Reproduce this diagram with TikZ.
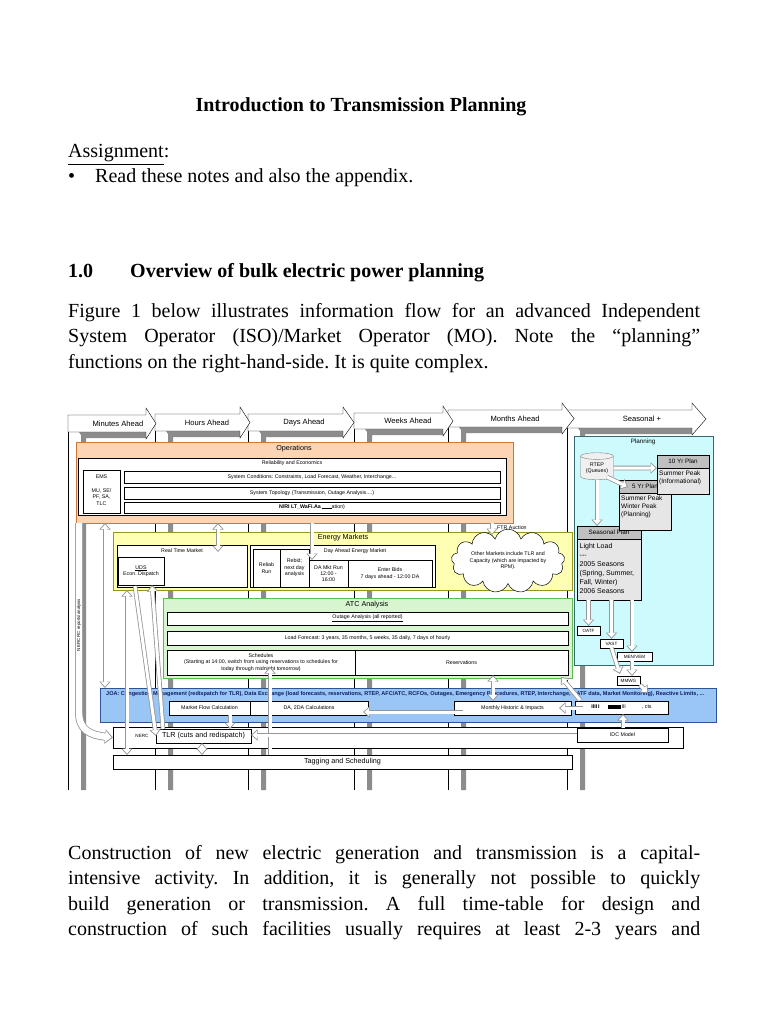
\documentclass[tikz,border=0pt]{standalone}
\usepackage{graphicx}
\usepackage{fontspec}
\setmainfont{Liberation Serif}
\newfontfamily\arialf{Liberation Sans}
\usetikzlibrary{arrows.meta,shapes.symbols,shapes.geometric}
\definecolor{opsfill}{RGB}{252,213,180}
\definecolor{opsdraw}{RGB}{205,120,50}
\definecolor{emfill}{RGB}{255,255,180}
\definecolor{emdraw}{RGB}{150,150,30}
\definecolor{atcfill}{RGB}{215,246,208}
\definecolor{atcdraw}{RGB}{95,185,85}
\definecolor{joafill}{RGB}{153,198,245}
\definecolor{joadraw}{RGB}{45,85,150}
\definecolor{joatext}{RGB}{15,30,100}
\definecolor{plfill}{RGB}{205,250,252}
\definecolor{pldraw}{RGB}{55,105,115}
\definecolor{bevelc}{RGB}{140,140,140}
\definecolor{plhead}{RGB}{192,192,192}
\definecolor{plbody}{RGB}{230,230,230}
\definecolor{arrline}{RGB}{150,150,150}
\frenchspacing
\newcommand\colhdr[8]{%
  \fill[bevelc] (#2+11,#6) -- (#3,#6) -- (#3,#6+6) -- (#2+18,#6+6) -- (#2+18,790) -- (#2+13,790) -- (#2+13,#6+3) -- cycle;
  \fill[bevelc!80] (#3,#6) -- (#3,#6+7) -- (#4-3,{(#5+#6)/2+3}) -- cycle;
  \draw[line width=0.4pt] (#2,#6) -- (#2,790);
  \draw[line width=0.4pt,fill=white] (#2,#5) -- (#3,#5) -- (#3,#5-7) -- (#4,{(#5+#6)/2}) -- (#3,#6+7) -- (#3,#6) -- (#2,#6) -- cycle;
  \node[hdrt] (#1) at (#8,{(#5+#6)/2}) {#7};}
\begin{document}
\begin{tikzpicture}[x=1pt,y=-1pt,
  body/.style={anchor=base west,inner sep=0pt,font=\fontsize{20}{25}\selectfont},
  bodyb/.style={anchor=base west,inner sep=0pt,font=\bfseries\fontsize{20}{25}\selectfont},
  box/.style={draw=black,line width=0.6pt,fill=white,anchor=north west,inner sep=0pt,outer sep=0pt,align=center},
  t4/.style={font=\arialf\fontsize{4.6}{5.4}\selectfont},
  t5/.style={font=\arialf\fontsize{5.3}{6.4}\selectfont},
  t6/.style={font=\arialf\fontsize{6.3}{7.4}\selectfont},
  t7/.style={font=\arialf\fontsize{7.2}{8.6}\selectfont},
  lbl/.style={inner sep=0pt,align=center},
  hdrt/.style={inner sep=0pt,font=\arialf\fontsize{7.6}{8.8}\selectfont},
  blk/.style={line width=4.6pt,draw=arrline,-{Triangle[length=6.5pt,width=11pt]},
     postaction={draw=white,line width=3pt,shorten >=1.4pt,-{Triangle[length=4.7pt,width=8pt]}}},
  blkd/.style={line width=4.6pt,draw=arrline,{Triangle[length=6.5pt,width=11pt]}-{Triangle[length=6.5pt,width=11pt]},
     postaction={draw=white,line width=3pt,shorten >=1.4pt,shorten <=1.4pt,{Triangle[length=4.7pt,width=8pt]}-{Triangle[length=4.7pt,width=8pt]}}},
  blkw/.style={line width=8pt,draw=arrline,-{Triangle[length=8pt,width=14pt]},
     postaction={draw=white,line width=6.4pt,shorten >=1.4pt,-{Triangle[length=6.2pt,width=11pt]}}}]
\useasboundingbox (0,0) rectangle (768,1024);
\fill[white] (0,0) rectangle (768,1024);

% ---------- text ----------
\node[anchor=base,inner sep=0pt,font=\bfseries\fontsize{20}{25}\selectfont] (title) at (361,112) {Introduction to Transmission Planning};
\node[body] (asg) at (68,158) {\underline{Assignment}:};
\node[body] (bul) at (68,183) {\textbullet};
\node[body] (read) at (95,183) {Read these notes and also the appendix.};
\node[bodyb] (sec) at (68,277) {1.0};
\node[bodyb] (sect) at (130,277) {Overview of bulk electric power planning};
\node[body] (p1a) at (68,317) {\makebox[632pt][s]{Figure 1 below illustrates information flow for an advanced Independent}};
\node[body] (p1b) at (68,342.5) {\makebox[632pt][s]{System Operator (ISO)/Market Operator (MO). Note the “planning”}};
\node[body] (p1c) at (68,368) {functions on the right-hand-side. It is quite complex.};
\node[body] (p2a) at (68,859) {\makebox[632pt][s]{Construction of new electric generation and transmission is a capital-}};
\node[body] (p2b) at (68,884.5) {\makebox[632pt][s]{intensive activity. In addition, it is generally not possible to quickly}};
\node[body] (p2c) at (68,910) {\makebox[632pt][s]{build generation or transmission. A full time-table for design and}};
\node[body] (p2d) at (68,935.5) {\makebox[632pt][s]{construction of such facilities usually requires at least 2-3 years and}};

% ---------- column headers ----------
\colhdr{hsea}{567}{692}{706}{410}{428}{Seasonal +}{642}
\colhdr{hmon}{448}{562}{574}{410}{427}{Months Ahead}{515}
\colhdr{hwee}{354}{443}{453}{413}{429}{Weeks Ahead}{408}
\colhdr{hday}{248}{343}{354}{414}{431}{Days Ahead}{304}
\colhdr{hhou}{155}{240}{250}{414}{431}{Hours Ahead}{207}
\colhdr{hmin}{68}{146}{156}{415}{432}{Minutes Ahead}{118}

% ---------- Operations ----------
\node[box,draw=opsdraw,fill=opsfill,line width=0.8pt,minimum width=437,minimum height=81] (ops) at (76,442) {};
\node[lbl,t7] (opst) at (294,449) {Operations};
\node[box,minimum width=428,minimum height=57] (rel) at (78,458) {};
\node[lbl,t5] (relt) at (292,463.5) {Reliability and Economics};
\node[box,line width=0.8pt,minimum width=37,minimum height=43] (ems) at (83,470) {};
\node[lbl,t5] (emst) at (101.5,477) {EMS};
\node[lbl,t5] (emsb) at (101.5,497) {MU, SE/\\PF, SA,\\TLC};
\node[box,line width=0.8pt,minimum width=376,minimum height=12,t5] (r1) at (124,471) {System Conditions: Constraints, Load Forecast, Weather, Interchange...};
\node[box,line width=0.8pt,minimum width=376,minimum height=12,t5] (r2) at (124,487) {System Topology (Transmission, Outage Analysis....)};
\node[box,line width=0.8pt,minimum width=376,minimum height=11,t5] (r3) at (124,502) {\textbf{N/RI LT\_WaFi.Aa}\,\rule[0.6pt]{10pt}{0.4pt}ation)};

% ---------- Energy Markets ----------
\node[box,draw=emdraw,fill=emfill,line width=0.8pt,minimum width=459,minimum height=58] (em) at (113,532) {};
\node[lbl,t7] (emt) at (343,537.5) {Energy Markets};
\node[box,minimum width=130,minimum height=42] (rtm) at (117,545) {};
\node[lbl,t5] (rtmt) at (182,551) {Real Time Market};
\node[box,line width=1pt,minimum width=46,minimum height=28,t5] (uds) at (118,557) {\underline{UDS}\\Econ. Dispatch};
\node[box,minimum width=185,minimum height=42] (da) at (250,545) {};
\node[lbl,t5] (dat) at (355,551) {Day Ahead Energy Market};
\node[box,minimum width=27,minimum height=38,t5] (c1) at (253,549) {Reliab\\Run};
\node[box,minimum width=29,minimum height=38,t5] (c2) at (280,549) {Rebid;\\next day\\analysis};
\node[box,minimum width=39,minimum height=27,t5] (c3) at (309,560) {DA Mkt Run\\12:00 -\\16:00};
\node[box,minimum width=84,minimum height=27,t5] (c4) at (348,560) {Enter Bids\\7 days ahead - 12:00 DA};
\node[cloud,cloud puffs=13,aspect=2.4,draw=black,line width=0.5pt,fill=white,minimum width=110pt,minimum height=46pt,inner sep=0pt,align=center,t5] (cloud) at (508,561) {Other Markets include TLR and\\Capacity (which are impacted by\\RPM).};
\node[lbl,t5,anchor=west] (ftr) at (497,528) {FTR Auction};

% ---------- ATC ----------
\node[box,draw=atcdraw,fill=atcfill,line width=0.8pt,minimum width=409,minimum height=80] (atc) at (163,598) {};
\node[lbl,t7] (atct) at (367,605) {ATC Analysis};
\node[box,minimum width=401,minimum height=13,t5] (o1) at (167,612) {\underline{Outage Analysis (all reported)}};
\node[box,minimum width=401,minimum height=14,t5] (o2) at (167,631) {Load Forecast: 3 years, 35 months, 5 weeks, 35 daily, 7 days of hourly};
\node[box,minimum width=188,minimum height=25,t5] (sch) at (167,650) {Schedules\\(Starting at 14:00, switch from using reservations to schedules for\\today through midnight tomorrow)};
\node[box,minimum width=213,minimum height=25,t5] (res) at (355,650) {Reservations};

% ---------- JOA band ----------
\node[box,draw=joadraw,fill=joafill,line width=0.7pt,minimum width=616,minimum height=34] (joa) at (100,688) {};
\node[inner sep=0pt,anchor=west,text=joatext] (joat) at (106,694.5) {\resizebox{598pt}{!}{\arialf\bfseries JOA: Congestion Management (redispatch for TLR), Data Exchange (load forecasts, reservations, RTEP, AFC/ATC, RCFOs, Outages, Emergency Procedures, RTEP, Interchange, OATF data, Market Monitoring), Reactive Limits, ...}};
\node[box,minimum width=81,minimum height=14,t5] (mfc) at (169,701) {Market Flow Calculation};
\node[box,minimum width=118,minimum height=14,t5] (da2) at (250,701) {DA, 2DA Calculations};
\node[box,minimum width=117,minimum height=14,t5] (mhi) at (454,701) {Monthly Historic \& Impacts};
\node[box,minimum width=93,minimum height=13,t5] (gb) at (575,701) {\textbf{IIII\,I}\hspace{8pt}\rule[-0.5pt]{13pt}{4pt}\,III\hspace{16pt}, cts};

% ---------- NERC / Tagging ----------
\node[box,minimum width=570,minimum height=21] (nerc) at (113,727) {};
\node[lbl,t4] (nerct) at (142,736) {NERC};
\node[box,minimum width=95,minimum height=14,t7] (tlr) at (156,729) {TLR (cuts and redispatch)};
\node[box,minimum width=91,minimum height=14,t5] (idc) at (577,728) {IDC Model};
\node[box,minimum width=459,minimum height=14,t7] (tag) at (113,755) {Tagging and Scheduling};

% ---------- Planning ----------
\node[box,draw=pldraw,fill=plfill,line width=0.8pt,minimum width=139,minimum height=229] (pl) at (574,436) {};
\node[lbl,t6] (plt) at (643,442) {Planning};
\node[box,fill=plhead,minimum width=64,minimum height=13,t6] (p3h) at (577,526) {Seasonal Plan};
\node[box,fill=plbody,minimum width=64,minimum height=61] (p3b) at (577,539) {};
\node[inner sep=0pt,anchor=north west,align=left,font=\arialf\fontsize{7}{9}\selectfont] (p3t) at (579.5,543.5) {Light Load\\---\\2005 Seasons\\(Spring, Summer,\\Fall, Winter)\\2006 Seasons};
\node[box,fill=plhead,minimum width=52,minimum height=13,t6] (p5h) at (619,480) {5 Yr Plan};
\node[box,fill=plbody,minimum width=52,minimum height=37] (p5b) at (619,493) {};
\node[inner sep=0pt,anchor=north west,align=left,font=\arialf\fontsize{6.5}{8}\selectfont] (p5t) at (621,496) {Summer Peak\\Winter Peak\\(Planning)};
\node[box,fill=plhead,minimum width=52,minimum height=13,t6] (p10h) at (657,455) {10 Yr Plan};
\node[box,fill=plbody,minimum width=52,minimum height=26] (p10b) at (657,468) {};
\node[inner sep=0pt,anchor=north west,align=left,font=\arialf\fontsize{6.5}{8}\selectfont] (p10t) at (659,471) {Summer Peak\\(Informational)};
\node[cylinder,shape border rotate=90,aspect=0.3,draw=gray,fill=gray!12,minimum width=33pt,minimum height=27pt,inner sep=0pt,align=center,t5] (rtep) at (597,468) {RTEP\\(Queues)};
\node[box,minimum width=23,minimum height=9,t4] (oatf) at (577,626) {OATF};
\node[box,minimum width=23,minimum height=9,t4] (vast) at (600,639) {VAST};
\node[box,minimum width=35,minimum height=9,t4] (menv) at (617,652) {MEN/VEM};
\node[box,minimum width=23,minimum height=9,t4] (mmwg) at (617,676) {MMWG};

% ---------- coordinates for connector positions ----------
\coordinate (xa) at (105,0);
\coordinate (xb) at (218,0);
\coordinate (xb2) at (218,552);
\coordinate (xc) at (312,0);
\coordinate (xd) at (492,0);
\coordinate (ftrtip) at (492,535);
\coordinate (xe) at (127,0);
\coordinate (u1) at (135,586);
\coordinate (xg) at (163,0);
\coordinate (xh) at (152,0);
\coordinate (xi) at (230,0);
\coordinate (xj) at (202,0);
\coordinate (xk) at (270,0);
\coordinate (schtip) at (270,667);
\coordinate (xl) at (493,0);
\coordinate (mh1) at (463,712);
\coordinate (da2tip) at (363,712);
\coordinate (g1) at (583,708);
\coordinate (g2) at (559,708);
\coordinate (xm) at (623,0);
\coordinate (g3) at (580,700);
\coordinate (g4) at (561,677);
\coordinate (r5a) at (607,477);
\coordinate (r5b) at (628,487);
\coordinate (xn) at (632,0);
\coordinate (mm1) at (620,674);
\coordinate (mm2) at (648,693);
\coordinate (xq) at (79,0);
\coordinate (nb) at (79,712);

% ---------- connectors ----------
\draw[blkw] (ops.south -| xq) -- (nb) .. controls (79,730) and (90,735) .. (nerc.west);
\node[lbl,rotate=90,font=\arialf\fontsize{4.4}{5}\selectfont] (nrc) at (79,625) {NERC RC reports/analysis};
\draw[blkd] (ops.south -| xa) -- (joa.north -| xa);
\draw[blkd] (ops.south -| xb) -- (xb2);
\draw[blk] (ops.south -| xc) -- (c3.north -| xc);
\draw[blk] (ops.south -| xd) -- (ftrtip);
\draw[blkd] (em.south -| xe) -- (tag.north -| xe);
\draw[blk] (u1) -- (tlr.west);
\draw[blk] (tlr.north -| xg) -- (uds.south -| xh);
\draw[blk] (mfc.south -| xi) -- (tlr.north -| xi);
\draw[blkd] (tlr.south -| xj) -- (tag.north -| xj);
\draw[blk] (tag.north -| xk) -- (schtip);
\draw[blk] (idc.west) -- (tlr.east |- idc.west);
\draw[blkd] (res.south -| xl) -- (mhi.north -| xl);
\draw[blk] (mh1) -- (da2tip);
\draw[blk] (g1) -- (g2);
\draw[blk] (idc.north -| xm) -- (gb.south -| xm);
\draw[blk] (g3) -- (g4);
\draw[blk] (rtep.east) -- (p10b.north west);
\draw[blk] (r5a) -- (r5b);
\draw[blk] (rtep.south) -- (rtep.south |- p3h.north);
\draw[blk] (oatf.north |- p3b.south) -- (oatf.north);
\draw[blk] (vast.north |- p3b.south) -- (vast.north);
\draw[blk] (xn |- p3b.south) -- (menv.north -| xn);
\draw[blk] (vast.south) -- (mm1);
\draw[blk] (menv.south -| xn) -- (mmwg.north -| xn);
\draw[blk] (mmwg.south east) -- (mm2);
\end{tikzpicture}
\end{document}
